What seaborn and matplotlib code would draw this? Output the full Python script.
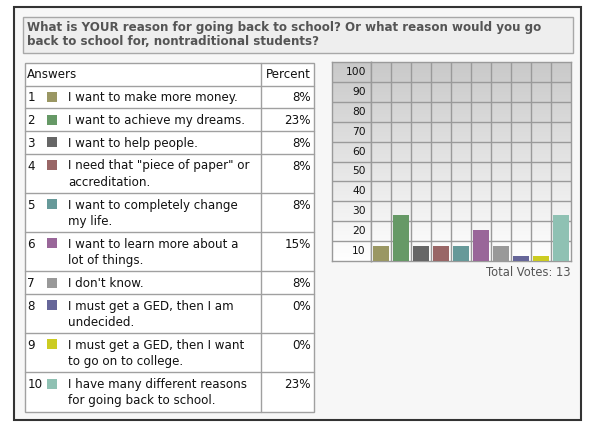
import numpy as np
import pandas as pd
import matplotlib
matplotlib.use("Agg")
import matplotlib.pyplot as plt
from matplotlib.patches import Rectangle
from matplotlib.colors import LinearSegmentedColormap
import seaborn as sns

# ---------------- data ----------------
title_lines = ["What is YOUR reason for going back to school? Or what reason would you go",
               "back to school for, nontraditional students?"]
answer_ids = ["1", "2", "3", "4", "5", "6", "7", "8", "9", "10"]
answers = [
    ["I want to make more money."],
    ["I want to achieve my dreams."],
    ["I want to help people."],
    ["I need that \"piece of paper\" or", "accreditation."],
    ["I want to completely change", "my life."],
    ["I want to learn more about a", "lot of things."],
    ["I don't know."],
    ["I must get a GED, then I am", "undecided."],
    ["I must get a GED, then I want", "to go on to college."],
    ["I have many different reasons", "for going back to school."],
]
votes = [1, 3, 1, 1, 1, 2, 1, 0, 0, 3]
total_votes = 13
colors = ["#9a9763", "#669966", "#666666", "#996666", "#669999",
          "#996699", "#999999", "#666699", "#cccc22", "#8fc1b3"]
y_labels = ["10", "20", "30", "40", "50", "60", "70", "80", "90", "100"]

pct_exact = [100.0 * v / total_votes for v in votes]
pct_text = [f"{round(p)}%" for p in pct_exact]
bar_heights = [max(p, 2.5) for p in pct_exact]  # zero-vote answers still show a stub

# ---------------- style ----------------
sns.set_style("white")
plt.rcParams["font.family"] = ["DejaVu Sans"]

W, H = 592, 428
fig = plt.figure(figsize=(W / 100, H / 100), dpi=100)
fig.patch.set_facecolor("white")

ov = fig.add_axes([0, 0, 1, 1])
ov.set_xlim(0, W)
ov.set_ylim(H, 0)
ov.axis("off")

# outer frame
ov.add_patch(Rectangle((14, 7), 567, 413, facecolor="#f7f7f7", edgecolor="#333333", lw=1.5, zorder=0))
# title box
ov.add_patch(Rectangle((22.5, 16.5), 550, 36.5, facecolor="#eeeeee", edgecolor="#a8a8a8", lw=1, zorder=1))
ov.text(27, 27.5, title_lines[0], fontsize=8.6, fontweight="bold", color="#555555", va="center", ha="left", zorder=2)
ov.text(27, 41.5, title_lines[1], fontsize=8.6, fontweight="bold", color="#555555", va="center", ha="left", zorder=2)

# table
tx0, tx1, tsep = 24.5, 313.5, 261
ttop = 63
row_single, row_double = 22.7, 39.2
heights = [row_single if len(a) == 1 else row_double for a in answers]
tbottom = ttop + row_single + sum(heights)
ov.add_patch(Rectangle((tx0, ttop), tx1 - tx0, tbottom - ttop, facecolor="white", edgecolor="#a0a0a0", lw=1, zorder=1))
ov.plot([tsep, tsep], [ttop, tbottom], color="#a0a0a0", lw=1, zorder=2)
fs = 8.6
ov.text(27, ttop + 11.5, "Answers", fontsize=fs, va="center", ha="left", color="#111111", zorder=3)
ov.text(311, ttop + 11.5, "Percent", fontsize=fs, va="center", ha="right", color="#111111", zorder=3)
y = ttop + row_single
for i, (aid, lines, h) in enumerate(zip(answer_ids, answers, heights)):
    ov.plot([tx0, tx1], [y, y], color="#a0a0a0", lw=1, zorder=2)
    cy = y + 12.2
    ov.text(27.5, cy, aid, fontsize=fs, va="center", ha="left", color="#111111", zorder=3)
    ov.add_patch(Rectangle((47, cy - 6), 10, 10, facecolor=colors[i], edgecolor="none", zorder=3))
    for k, ln in enumerate(lines):
        ov.text(68, cy + 16 * k, ln, fontsize=fs, va="center", ha="left", color="#111111", zorder=3)
    ov.text(311, cy, pct_text[i], fontsize=fs, va="center", ha="right", color="#111111", zorder=3)
    y += h

# total votes
ov.text(571, 272, f"Total Votes: {total_votes}", fontsize=8.3, va="center", ha="right", color="#555555", zorder=3)

# ---------------- chart ----------------
cx0, cx1, cy0, cy1, lab_w = 332, 571, 62, 261, 39
grad_cmap = LinearSegmentedColormap.from_list("g", ["#ffffff", "#c9c9c9"])
grad = np.linspace(0, 1, 256).reshape(-1, 1)

lab_ax = fig.add_axes([cx0 / W, 1 - cy1 / H, lab_w / W, (cy1 - cy0) / H])
bar_ax = fig.add_axes([(cx0 + lab_w) / W, 1 - cy1 / H, (cx1 - cx0 - lab_w) / W, (cy1 - cy0) / H])

df = pd.DataFrame({"answer": answer_ids, "pct": bar_heights})
sns.barplot(data=df, x="answer", y="pct", hue="answer", palette=colors, order=answer_ids,
            hue_order=answer_ids, legend=False, width=0.8, saturation=1, ax=bar_ax,
            edgecolor="none", zorder=3)
bar_ax.imshow(grad, cmap=grad_cmap, extent=(-0.5, 9.5, 0, 100), aspect="auto", origin="lower", zorder=0)
bar_ax.set_xlim(-0.5, 9.5)
bar_ax.set_ylim(0, 100)
for v in range(10, 100, 10):
    bar_ax.axhline(v, color="#9a9a9a", lw=1, zorder=1)
for k in range(1, 10):
    bar_ax.axvline(k - 0.5, color="#9a9a9a", lw=1, zorder=1)
bar_ax.set_xticks([])
bar_ax.set_yticks([])
bar_ax.set_xlabel("")
bar_ax.set_ylabel("")

lab_ax.imshow(grad, cmap=grad_cmap, extent=(0, 1, 0, 100), aspect="auto", origin="lower", zorder=0)
lab_ax.set_xlim(0, 1)
lab_ax.set_ylim(0, 100)
for v in range(10, 100, 10):
    lab_ax.axhline(v, color="#9a9a9a", lw=1, zorder=1)
for i, lbl in enumerate(y_labels):
    lab_ax.text(0.87, 10 * i + 5, lbl, fontsize=7.7, ha="right", va="center", color="#111111", zorder=2)
lab_ax.set_xticks([])
lab_ax.set_yticks([])

for a in (lab_ax, bar_ax):
    for s in a.spines.values():
        s.set_color("#9a9a9a")
        s.set_linewidth(1)
        s.set_visible(True)

fig.savefig("out.png", dpi=100)
